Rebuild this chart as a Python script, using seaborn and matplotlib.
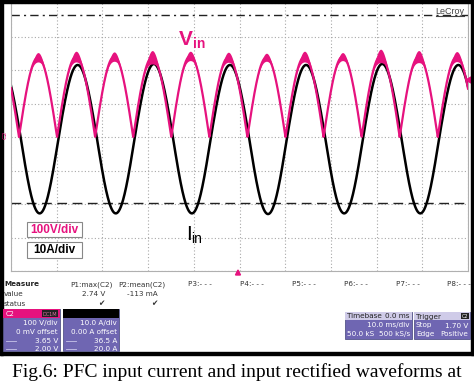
import numpy as np
import pandas as pd
import matplotlib
matplotlib.use("Agg")
import matplotlib.pyplot as plt
import seaborn as sns
from matplotlib.patches import Rectangle, Polygon

# ---- data (time in ms, amplitude in divisions) ----
half_period_ms = 8.33          # rectified 60 Hz -> 8.33 ms per lobe
first_zero_ms = 1.75           # first zero crossing of Vin
lobe_index = list(range(-1, 12))
vin_peak_div = [2.38, 2.38, 2.40, 2.40, 2.38, 2.42, 2.38, 2.38, 2.40, 2.40, 2.42, 2.40, 2.40]
vin_fuzz_div = [0.12, 0.14, 0.16, 0.14, 0.20, 0.14, 0.15, 0.12, 0.16, 0.12, 0.20, 0.18, 0.15]
iin_peak_div = [2.15, -2.28, 2.15, -2.28, 2.18, -2.28, 2.15, -2.30, 2.15, -2.28, 2.18, -2.28, 2.15]
iin_lag_ms = 0.35
upper_ref_div = 3.64
lower_ref_div = -1.97

MAG = "#e6127e"

t = np.linspace(0, 100, 6000)
vin = np.zeros_like(t)
fuzz = np.zeros_like(t)
iin = np.zeros_like(t)
for k, vp, fz, ip in zip(lobe_index, vin_peak_div, vin_fuzz_div, iin_peak_div):
    start = first_zero_ms + k * half_period_ms
    m = (t >= start) & (t < start + half_period_ms)
    ph = np.sin(np.pi * (t[m] - start) / half_period_ms)
    vin[m] = vp * ph
    fuzz[m] = fz * ph ** 8
    mi = (t >= start + iin_lag_ms) & (t < start + half_period_ms + iin_lag_ms)
    phi = np.sin(np.pi * (t[mi] - start - iin_lag_ms) / half_period_ms)
    iin[mi] = ip * phi
df = pd.DataFrame({"t": t, "vin": vin, "iin": iin})

fig = plt.figure(figsize=(4.74, 3.82), dpi=100)
fig.patch.set_facecolor("white")

ax = fig.add_axes([11 / 474, 1 - 271 / 382, 457 / 474, 268 / 382], zorder=2)
ax.set_xlim(0, 100)
ax.set_ylim(-4, 4)
ax.set_xticks(np.arange(0, 101, 10))
ax.set_yticks(np.arange(-4, 5, 1))
ax.tick_params(length=0, labelbottom=False, labelleft=False)
ax.grid(True, color="#a8a8a8", linestyle=(0, (1, 2)), linewidth=0.8)
for s in ax.spines.values():
    s.set_color("#b0b0b0")
    s.set_linewidth(0.8)

ax.axhline(upper_ref_div, color="#222222", linestyle=(0, (6, 3, 1.5, 3)), linewidth=1.0)
ax.axhline(lower_ref_div, color="#222222", linestyle=(0, (7, 4)), linewidth=1.0)

sns.lineplot(data=df, x="t", y="iin", ax=ax, color="black", linewidth=1.8,
             estimator=None, sort=False, legend=False)
ax.fill_between(t, vin - fuzz, vin + fuzz, color=MAG, linewidth=0, zorder=3)
sns.lineplot(data=df, x="t", y="vin", ax=ax, color=MAG, linewidth=1.6,
             estimator=None, sort=False, legend=False, zorder=4)
ax.set_xlabel("")
ax.set_ylabel("")

# ---- overlay in pixel coordinates for labels and the scope panel ----
ov = fig.add_axes([0, 0, 1, 1], zorder=5)
ov.set_xlim(0, 474)
ov.set_ylim(382, 0)
ov.axis("off")
ov.patch.set_alpha(0)

# trace labels
ov.text(179, 45, "V", color=MAG, fontsize=15, fontweight="bold", family="Liberation Sans")
ov.text(193, 48, "in", color=MAG, fontsize=10, fontweight="bold", family="Liberation Sans")
ov.text(186, 240, "I", color="black", fontsize=15, family="Liberation Sans")
ov.text(191, 243, "in", color="black", fontsize=10, family="Liberation Sans")

# scale boxes
ov.add_patch(Rectangle((27, 222), 55, 15, facecolor="white", edgecolor="#888888", lw=0.8))
ov.text(54.5, 230, "100V/div", color=MAG, fontsize=8.5, fontweight="bold",
        ha="center", va="center", family="Liberation Sans")
ov.add_patch(Rectangle((27, 242), 55, 16, facecolor="white", edgecolor="#888888", lw=0.8))
ov.text(54.5, 250, "10A/div", color="black", fontsize=8.5, fontweight="bold",
        ha="center", va="center", family="Liberation Sans")

ov.text(464, 14, "LeCroy", color="#444444", fontsize=6.5, ha="right", family="Liberation Sans")
ov.plot([436, 464], [16, 16], color="#444444", lw=0.8)

# markers
ov.text(5, 135, "C2", color=MAG, fontsize=4.5, rotation=90, ha="center", va="center")
ov.add_patch(Polygon([[466, 80], [471, 77], [471, 83]], closed=True, color=MAG))
ov.add_patch(Polygon([[238, 270], [235.5, 275], [240.5, 275]], closed=True, color=MAG))

# black frame
ov.add_patch(Rectangle((0, 0), 474, 3, color="black"))
ov.add_patch(Rectangle((0, 0), 3, 355, color="black"))
ov.add_patch(Rectangle((471, 0), 3, 355, color="black"))
ov.add_patch(Rectangle((0, 352), 474, 3, color="black"))

# measurement panel
fs = 5.2
ov.text(4, 286, "Measure", fontsize=fs, fontweight="bold", color="#222222")
ov.text(4, 296, "value", fontsize=fs, color="#333333")
ov.text(4, 306, "status", fontsize=fs, color="#333333")
plabels = [(70, "P1:max(C2)"), (118, "P2:mean(C2)"), (188, "P3:- - -"), (240, "P4:- - -"),
           (292, "P5:- - -"), (344, "P6:- - -"), (396, "P7:- - -"), (447, "P8:- - -")]
for x, s in plabels:
    ov.text(x, 286, s, fontsize=fs, color="#333333")
ov.text(105, 296, "2.74 V", fontsize=fs, ha="right", color="#333333")
ov.text(158, 296, "-113 mA", fontsize=fs, ha="right", color="#333333")
ov.text(101, 306, "\u2714", fontsize=5.5, ha="center", color="#333333", family="DejaVu Sans")
ov.text(154, 306, "\u2714", fontsize=5.5, ha="center", color="#333333", family="DejaVu Sans")

PURP = "#6f66b2"
# C2 box
ov.add_patch(Rectangle((3, 309), 57, 42, facecolor=PURP, edgecolor="#555588", lw=0.6))
ov.add_patch(Rectangle((3, 309), 57, 9, facecolor=MAG, edgecolor="none"))
ov.add_patch(Rectangle((42, 310), 16, 7, facecolor="#222222", edgecolor="none"))
ov.text(6, 316.5, "C2", fontsize=4.8, color="white")
ov.text(50, 316, "DC1M", fontsize=3.6, color="#e070a0", ha="center")
for y, s in [(325, "100 V/div"), (334, "0 mV offset"), (343, "3.65 V"), (351, "2.00 V")]:
    ov.text(58, y, s, fontsize=fs, color="white", ha="right")
ov.plot([6, 16], [341, 341], color="#c8c4ea", lw=0.6)
ov.plot([6, 16], [349, 349], color="#c8c4ea", lw=0.6)
# second channel box
ov.add_patch(Rectangle((63, 309), 56, 42, facecolor=PURP, edgecolor="#555588", lw=0.6))
ov.add_patch(Rectangle((63, 309), 56, 9, facecolor="black", edgecolor="none"))
for y, s in [(325, "10.0 A/div"), (334, "0.00 A offset"), (343, "36.5 A"), (351, "20.0 A")]:
    ov.text(117, y, s, fontsize=fs, color="white", ha="right")
ov.plot([66, 76], [341, 341], color="#c8c4ea", lw=0.6)
ov.plot([66, 76], [349, 349], color="#c8c4ea", lw=0.6)
# timebase box
ov.add_patch(Rectangle((345, 312), 67, 27, facecolor=PURP, edgecolor="#555588", lw=0.6))
ov.add_patch(Rectangle((345, 312), 67, 8, facecolor="#cfcbe8", edgecolor="none"))
ov.text(347, 318.5, "Timebase", fontsize=fs, color="#222222")
ov.text(410, 318.5, "0.0 ms", fontsize=fs, color="#222222", ha="right")
ov.text(410, 327.5, "10.0 ms/div", fontsize=fs, color="white", ha="right")
ov.text(347, 336, "50.0 kS", fontsize=fs, color="white")
ov.text(410, 336, "500 kS/s", fontsize=fs, color="white", ha="right")
# trigger box
ov.add_patch(Rectangle((414, 312), 56, 27, facecolor=PURP, edgecolor="#555588", lw=0.6))
ov.add_patch(Rectangle((414, 312), 56, 8, facecolor="#cfcbe8", edgecolor="none"))
ov.add_patch(Rectangle((461, 313), 8, 6, facecolor="#222222", edgecolor="none"))
ov.text(416, 318.5, "Trigger", fontsize=fs, color="#222222")
ov.text(465, 318, "C2", fontsize=3.6, color="white", ha="center")
ov.text(416, 327.5, "Stop", fontsize=fs, color="white")
ov.text(468, 327.5, "1.70 V", fontsize=fs, color="white", ha="right")
ov.text(416, 336, "Edge", fontsize=fs, color="white")
ov.text(468, 336, "Positive", fontsize=fs, color="white", ha="right")

# caption
ov.text(237, 377, "Fig.6: PFC input current and input rectified waveforms at",
        fontsize=14, family="Liberation Serif", ha="center", va="baseline", color="black")

fig.savefig("out.png", dpi=100)
